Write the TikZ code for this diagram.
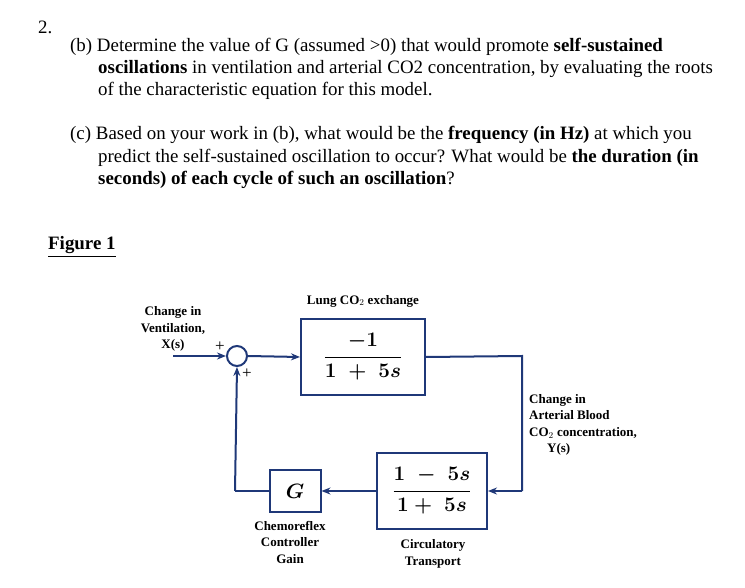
\documentclass[tikz,border=0pt]{standalone}
\usepackage{amsmath,amsbsy}
\usepackage{fontspec}
\setmainfont{Liberation Serif}
\usetikzlibrary{arrows.meta}
\definecolor{navy}{RGB}{31,56,120}
\begin{document}
\begin{tikzpicture}[x=1pt,y=-1pt,
  txt/.style={anchor=west,inner sep=0,font=\fontsize{18.9}{20}\selectfont},
  lbl/.style={align=center,inner sep=0,font=\bfseries\fontsize{13}{16.5}\selectfont},
  blk/.style={draw=navy,line width=2pt},
  con/.style={navy,line width=2pt,-{Stealth[length=9pt,width=7pt]}},
  ln/.style={navy,line width=2pt}]
\useasboundingbox (0,0) rectangle (745,588);
\node[txt] (n2) at (38,27) {2.};
\node[txt] (b1) at (70,47) {(b) Determine the value of G (assumed >0) that would promote \textbf{self-sustained}};
\node[txt] (b2) at (98,69) {\textbf{oscillations} in ventilation and arterial CO2 concentration, by evaluating the roots};
\node[txt] (b3) at (98,91) {of the characteristic equation for this model.};
\node[txt] (c1) at (70,135) {(c) Based on your work in (b), what would be the \textbf{frequency (in Hz)} at which you};
\node[txt] (c2) at (98,158) {predict the self-sustained oscillation to occur? What would be \textbf{the duration (in}};
\node[txt] (c3) at (98,180) {\textbf{seconds) of each cycle of such an oscillation}?};
\node[txt] (fig) at (48,247) {\textbf{\underline{Figure 1}}};

\node[draw=navy,line width=2pt,circle,minimum size=20pt,inner sep=0] (sum) at (237,356) {};
\coordinate (in) at (173,356);
\node[blk,minimum width=124pt,minimum height=76pt] (lung) at (363,357) {};
\node[lbl,font=\fontsize{20}{22}\selectfont] (lungtf) at (363,357) {$\boldsymbol{\dfrac{-1}{1\;+\;5s}}$};
\node[blk,minimum width=110pt,minimum height=76pt] (circ) at (432,491) {};
\node[lbl,font=\fontsize{20}{22}\selectfont] (circtf) at (432,491) {$\boldsymbol{\dfrac{1\;-\;5s}{1+\;5s}}$};
\node[blk,minimum width=51pt,minimum height=42pt] (g) at (295,491) {};
\node[lbl,font=\fontsize{20}{22}\selectfont] (gt) at (295,491) {$\boldsymbol{G}$};
\coordinate (r1) at (522,356);
\coordinate (r2) at (522,491);
\coordinate (l1) at (235,491);

\draw[con] (in) -- (sum.west);
\draw[con] (sum.east) -- (lung.west);
\draw[ln] (lung.east) -- (r1) -- (r2);
\draw[con] (r2) -- (circ.east);
\draw[con] (circ.west) -- (g.east);
\draw[ln] (g.west) -- (l1);
\draw[con] (l1) -- (sum.south);

\node[font=\fontsize{17}{17}\selectfont,inner sep=0] (p1) at (220,347) {+};
\node[font=\fontsize{17}{17}\selectfont,inner sep=0] (p2) at (247,374) {+};
\node[lbl] (xl) at (173,329) {Change in\\Ventilation,\\X(s)};
\node[lbl] (ll) at (363,301) {Lung CO$_2$ exchange};
\node[lbl,align=left,anchor=west] (yl) at (529,425) {Change in\\Arterial Blood\\CO$_2$ concentration,\\\hspace*{18pt}Y(s)};
\node[lbl] (gl) at (290,542) {Chemoreflex\\Controller\\Gain};
\node[lbl] (cl) at (433,554) {Circulatory\\Transport};
\end{tikzpicture}
\end{document}
